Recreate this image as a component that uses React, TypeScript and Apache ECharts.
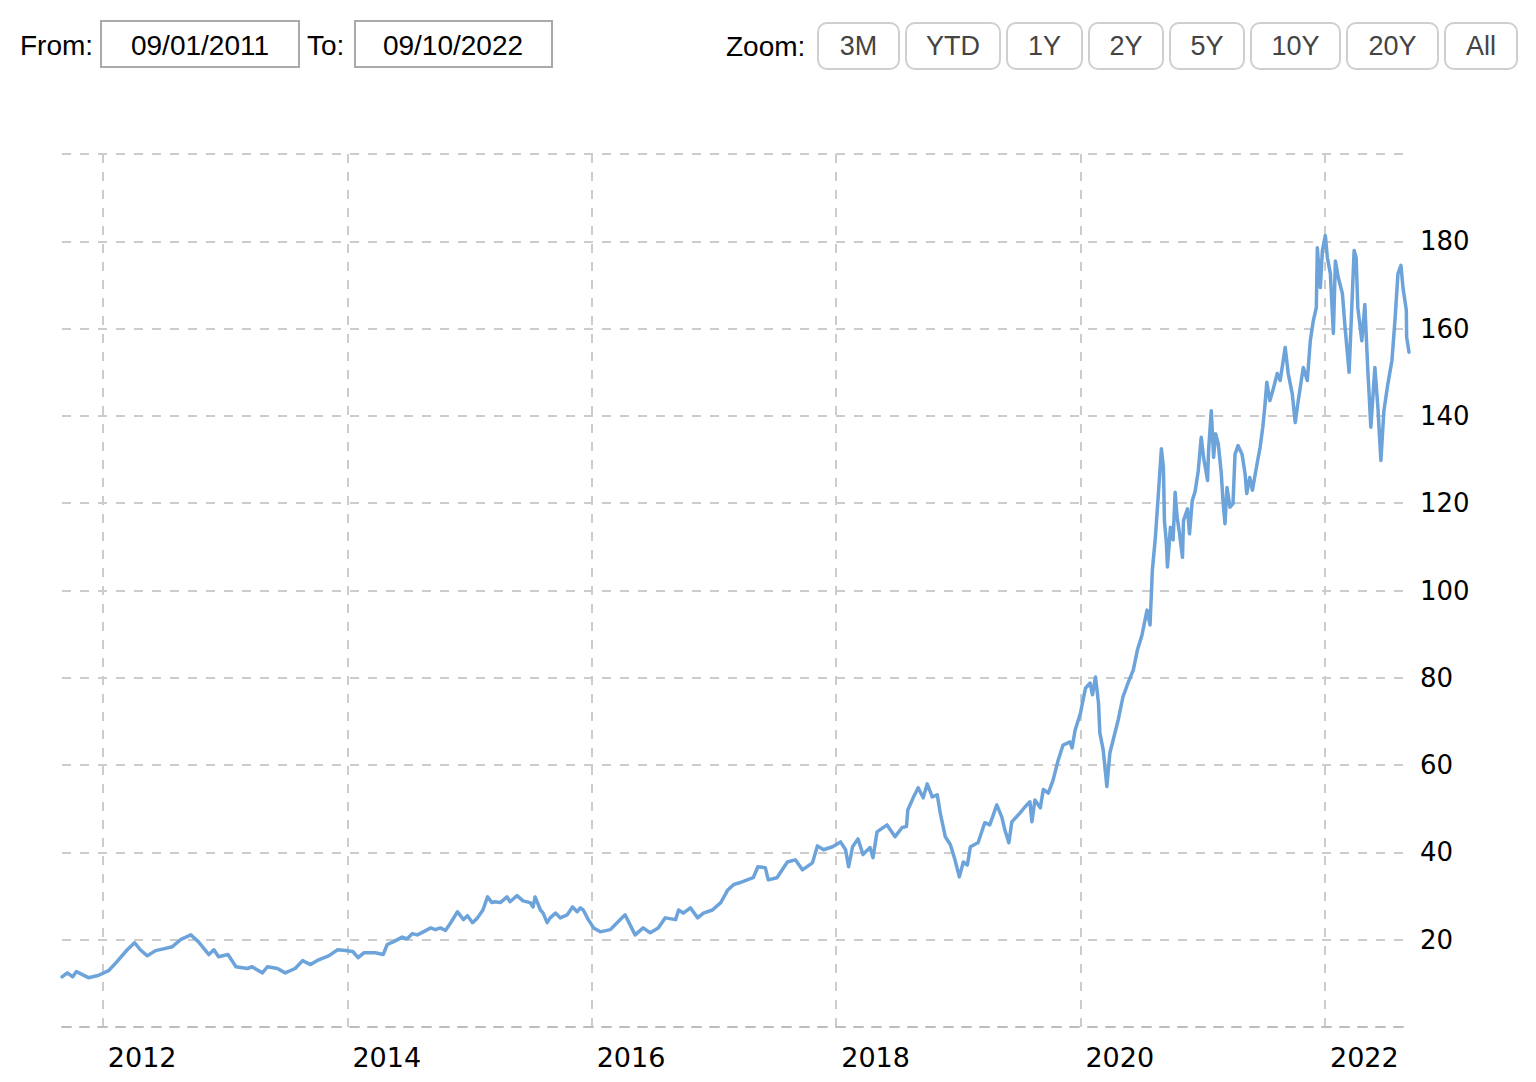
import React, { useEffect, useRef } from 'react';
import * as echarts from 'echarts';

const dates: string[] = [
  '2011-09-01','2011-09-17','2011-10-03','2011-10-14','2011-11-19','2011-12-18',
  '2012-01-18','2012-02-09','2012-03-14','2012-04-05','2012-04-22','2012-05-13','2012-06-07','2012-06-30',
  '2012-07-27','2012-08-20','2012-09-20','2012-10-13','2012-11-13','2012-11-28','2012-12-12',
  '2013-01-09','2013-02-02','2013-03-08','2013-03-22','2013-04-22','2013-05-07','2013-06-06','2013-06-29',
  '2013-07-29','2013-08-20','2013-09-13','2013-10-07','2013-11-06','2013-12-03','2013-12-26',
  '2014-01-17','2014-02-02','2014-02-19','2014-03-25','2014-04-18','2014-04-30','2014-05-18','2014-06-14',
  '2014-06-29','2014-07-14','2014-07-29','2014-08-16','2014-09-07','2014-09-21','2014-10-06','2014-10-21',
  '2014-11-06','2014-11-26','2014-12-14','2014-12-26',
  '2015-01-10','2015-01-25','2015-02-10','2015-02-24','2015-03-09','2015-03-18','2015-04-03','2015-04-23',
  '2015-05-02','2015-05-23','2015-06-10','2015-07-01','2015-07-10','2015-07-16','2015-08-01','2015-08-09',
  '2015-08-21','2015-08-30','2015-09-15','2015-09-29','2015-10-20','2015-11-05','2015-11-19','2015-11-28',
  '2015-12-07','2015-12-22',
  '2016-01-07','2016-01-27','2016-02-26','2016-03-17','2016-04-10','2016-04-25','2016-05-10','2016-06-03',
  '2016-06-24','2016-07-18','2016-08-08','2016-09-08','2016-09-17','2016-10-01','2016-10-22','2016-11-13',
  '2016-11-30','2016-12-27',
  '2017-01-21','2017-02-11','2017-02-28','2017-03-20','2017-04-10','2017-04-28','2017-05-12','2017-06-03',
  '2017-06-12','2017-07-08','2017-08-08','2017-09-01','2017-09-22','2017-10-22','2017-11-06','2017-11-24',
  '2017-12-21',
  '2018-01-14','2018-01-29','2018-02-07','2018-02-19','2018-03-07','2018-03-22','2018-04-12','2018-04-21',
  '2018-05-03','2018-06-02','2018-06-26','2018-07-17','2018-07-30','2018-08-03','2018-08-19','2018-09-03',
  '2018-09-18','2018-09-30','2018-10-15','2018-10-30','2018-11-08','2018-11-23','2018-12-08','2018-12-22',
  '2019-01-04','2019-01-16','2019-01-28','2019-02-06','2019-03-01','2019-03-21','2019-04-05','2019-04-26',
  '2019-05-11','2019-05-20','2019-06-01','2019-06-10','2019-07-04','2019-07-19','2019-08-03','2019-08-09',
  '2019-08-18','2019-09-03','2019-09-12','2019-09-27','2019-10-11','2019-10-26','2019-11-10','2019-12-01',
  '2019-12-07','2019-12-16',
  '2020-01-01','2020-01-16','2020-01-30','2020-02-06','2020-02-15','2020-02-24','2020-02-28','2020-03-09',
  '2020-03-20','2020-03-29','2020-04-08','2020-04-23','2020-05-07','2020-05-22','2020-06-07','2020-06-19',
  '2020-07-03','2020-07-18','2020-07-27','2020-08-03','2020-08-12','2020-08-21','2020-08-30','2020-09-05',
  '2020-09-08','2020-09-14','2020-09-17','2020-09-26','2020-10-04','2020-10-10','2020-10-16','2020-10-22',
  '2020-11-01','2020-11-04','2020-11-16','2020-11-22','2020-11-30','2020-12-09','2020-12-18','2020-12-27',
  '2021-01-03','2021-01-15','2021-01-18','2021-01-26','2021-02-02','2021-02-08','2021-02-16','2021-02-25',
  '2021-03-02','2021-03-08','2021-03-14','2021-03-23','2021-04-01','2021-04-07','2021-04-16','2021-04-28',
  '2021-05-07','2021-05-12','2021-05-21','2021-05-29','2021-06-12','2021-06-21','2021-06-29','2021-07-05',
  '2021-07-11','2021-07-20','2021-07-29','2021-08-11','2021-08-20','2021-09-04','2021-09-13','2021-09-25',
  '2021-10-04','2021-10-13','2021-10-28','2021-11-09','2021-11-18','2021-11-27','2021-12-06','2021-12-09',
  '2021-12-18','2021-12-24',
  '2022-01-02','2022-01-08','2022-01-17','2022-01-26','2022-02-01','2022-02-10','2022-02-22','2022-03-01',
  '2022-03-14','2022-03-29','2022-04-04','2022-04-09','2022-04-21','2022-04-30','2022-05-09','2022-05-18',
  '2022-05-30','2022-06-08','2022-06-17','2022-06-26','2022-07-08','2022-07-20','2022-07-29','2022-08-07',
  '2022-08-16','2022-08-22','2022-09-01','2022-09-02','2022-09-09',
];

const prices: number[] = [
  11.5, 12.4, 11.5, 12.7, 11.3, 11.8,
  12.9, 14.7, 17.7, 19.3, 17.7, 16.3, 17.5, 17.9,
  18.4, 20.0, 21.1, 19.5, 16.6, 17.7, 16.1,
  16.6, 13.8, 13.4, 13.8, 12.4, 13.8, 13.4, 12.4,
  13.4, 15.2, 14.3, 15.4, 16.3, 17.7, 17.5,
  17.3, 15.9, 17.0, 17.0, 16.6, 18.9, 19.5, 20.6,
  20.2, 21.4, 21.1, 21.8, 22.7, 22.3, 22.7, 22.1,
  23.9, 26.4, 24.6, 25.5,
  23.9, 25.0, 26.8, 29.8, 28.5, 28.7, 28.5, 29.8,
  28.7, 30.1, 28.9, 28.5, 27.5, 29.8, 26.8, 26.1,
  23.9, 25.0, 26.1, 25.0, 25.7, 27.5, 26.4, 27.3,
  26.8, 24.6,
  22.7, 21.8, 22.3, 23.9, 25.7, 23.4, 21.1, 22.7,
  21.6, 22.7, 25.0, 24.6, 26.8, 26.1, 27.3, 25.0,
  26.1, 26.8,
  28.5, 31.4, 32.6, 33.1, 33.7, 34.2, 36.7, 36.5,
  33.7, 34.2, 37.8, 38.3, 36.0, 37.6, 41.5, 40.6,
  41.3,
  42.4, 40.6, 36.7, 41.3, 43.1, 39.5, 41.1, 38.8,
  44.7, 46.3, 43.6, 45.7, 45.9, 49.7, 52.5, 54.8,
  52.5, 55.7, 52.7, 53.2, 49.0, 43.6, 41.8, 38.3,
  34.4, 37.8, 37.1, 41.3, 42.2, 46.8, 46.3, 50.9,
  48.1, 45.2, 42.2, 47.0, 49.0, 50.4, 51.6, 47.0,
  52.0, 50.2, 54.4, 53.6, 56.5, 61.0, 64.6, 65.3,
  63.9, 68.0,
  71.9, 77.6, 78.8, 76.1, 80.2, 74.2, 67.4, 63.5,
  55.1, 62.8, 65.8, 70.4, 75.6, 78.8, 81.8, 86.3,
  89.8, 95.5, 92.1, 104.7, 112.2, 122.2, 132.5, 128.2,
  116.0, 110.8, 105.4, 114.5, 111.6, 122.5, 116.8, 113.7,
  107.6, 116.0, 118.7, 113.0, 120.5, 122.8, 127.4, 135.1,
  130.5, 125.2, 132.1, 141.2, 130.5, 135.9, 133.6, 126.8,
  120.5, 115.3, 123.6, 119.1, 119.9, 131.2, 133.2, 131.2,
  126.8, 122.2, 125.9, 123.0, 129.1, 132.8, 137.4, 142.0,
  147.7, 143.5, 145.8, 149.7, 148.1, 155.7, 149.7, 145.1,
  138.5, 143.5, 151.1, 148.1, 157.2, 161.8, 164.8, 178.5,
  169.4, 177.8,
  181.3, 176.3, 172.6, 158.9, 175.5, 171.6, 168.0, 161.1,
  150.0, 177.9, 176.3, 164.8, 157.2, 165.5, 150.4, 137.4,
  151.1, 142.0, 129.8, 141.2, 147.4, 152.7, 161.8, 172.6,
  174.5, 169.4, 164.2, 158.0, 154.6,
];

const yearTicks: number[] = [2012, 2014, 2016, 2018, 2020, 2022];
const axisStart = '2011-09-01';
const axisEnd = '2022-09-12';
const fromLabel = 'From:';
const toLabel = 'To:';
const fromDate = '09/01/2011';
const toDate = '09/10/2022';
const zoomLabel = 'Zoom:';
const zoomButtons: string[] = ['3M', 'YTD', '1Y', '2Y', '5Y', '10Y', '20Y', 'All'];

// layout (pixels) of header buttons: [left, width]
const buttonBoxes: [number, number][] = [
  [818, 81], [906, 94], [1007, 75], [1089, 74], [1170, 74], [1251, 89], [1347, 91], [1445, 72],
];

const LINE_COLOR = '#6ca3da';
const GRID_COLOR = '#cccccc';
const SANS = '"Liberation Sans", Arial, Helvetica, sans-serif';
const AXIS_FONT = '"DejaVu Sans", Verdana, sans-serif';

const toTime = (s: string) => {
  const [y, m, d] = s.split('-').map(Number);
  return Date.UTC(y, m - 1, d);
};

export default function App() {
  const ref = useRef<HTMLDivElement>(null);

  useEffect(() => {
    if (!ref.current) return;
    const chart = echarts.init(ref.current, null, { renderer: 'svg' });
    const tickValues = yearTicks.map((y) => Date.UTC(y, 0, 1));

    const graphic: any[] = [
      { type: 'text', x: 20, y: 45, style: { text: fromLabel, fontSize: 28, fontFamily: SANS, fill: '#000', align: 'left', verticalAlign: 'middle' } },
      { type: 'rect', shape: { x: 101, y: 21, width: 198, height: 46 }, style: { fill: '#fff', stroke: '#a9a9a9', lineWidth: 2 } },
      { type: 'text', x: 200, y: 45, style: { text: fromDate, fontSize: 28, fontFamily: SANS, fill: '#000', align: 'center', verticalAlign: 'middle' } },
      { type: 'text', x: 307, y: 45, style: { text: toLabel, fontSize: 28, fontFamily: SANS, fill: '#000', align: 'left', verticalAlign: 'middle' } },
      { type: 'rect', shape: { x: 355, y: 21, width: 197, height: 46 }, style: { fill: '#fff', stroke: '#a9a9a9', lineWidth: 2 } },
      { type: 'text', x: 453, y: 45, style: { text: toDate, fontSize: 28, fontFamily: SANS, fill: '#000', align: 'center', verticalAlign: 'middle' } },
      { type: 'text', x: 726, y: 46, style: { text: zoomLabel, fontSize: 28, fontFamily: SANS, fill: '#000', align: 'left', verticalAlign: 'middle' } },
    ];
    zoomButtons.forEach((label, i) => {
      const [bx, bw] = buttonBoxes[i];
      graphic.push({
        type: 'rect',
        shape: { x: bx, y: 23, width: bw, height: 46, r: 9 },
        style: { fill: '#fff', stroke: '#cfcfcf', lineWidth: 2 },
      });
      graphic.push({
        type: 'text',
        x: bx + bw / 2,
        y: 46,
        style: { text: label, fontSize: 27, fontFamily: SANS, fill: '#444', align: 'center', verticalAlign: 'middle' },
      });
    });

    const option: any = {
      animation: false,
      backgroundColor: '#fff',
      graphic,
      grid: { left: 62, right: 126, top: 154, bottom: 55, containLabel: false },
      xAxis: {
        type: 'value',
        min: toTime(axisStart),
        max: toTime(axisEnd),
        axisLine: { show: true, onZero: false, lineStyle: { color: '#bdbdbd', width: 2, type: [9, 9] } },
        axisTick: { show: false, customValues: tickValues },
        axisLabel: {
          customValues: tickValues,
          formatter: (v: number) => String(new Date(v).getUTCFullYear()),
          fontSize: 27,
          fontFamily: AXIS_FONT,
          color: '#000',
          align: 'left',
          padding: [0, 0, 0, 5],
          margin: 17,
          showMinLabel: true,
          showMaxLabel: true,
          hideOverlap: false,
        },
        splitLine: { show: true, lineStyle: { color: GRID_COLOR, width: 2, type: [9, 9] } },
      },
      yAxis: {
        type: 'value',
        position: 'right',
        min: 0,
        max: 200,
        interval: 20,
        axisLine: { show: false },
        axisTick: { show: false },
        axisLabel: {
          formatter: (v: number) => (v === 0 || v === 200 ? '' : String(v)),
          fontSize: 26,
          fontFamily: AXIS_FONT,
          color: '#000',
          margin: 10,
        },
        splitLine: { show: true, lineStyle: { color: GRID_COLOR, width: 2, type: [9, 9] } },
      },
      series: [
        {
          type: 'line',
          data: dates.map((d, i) => [toTime(d), prices[i]]),
          showSymbol: false,
          symbol: 'none',
          lineStyle: { color: LINE_COLOR, width: 3.5, join: 'round', cap: 'round' },
          itemStyle: { color: LINE_COLOR },
          z: 5,
        },
      ],
    };
    chart.setOption(option);
    return () => chart.dispose();
  }, []);

  return (
    <div
      ref={ref}
      style={{ position: 'absolute', left: 0, top: 0, width: 1536, height: 1082, background: '#fff' }}
    />
  );
}
